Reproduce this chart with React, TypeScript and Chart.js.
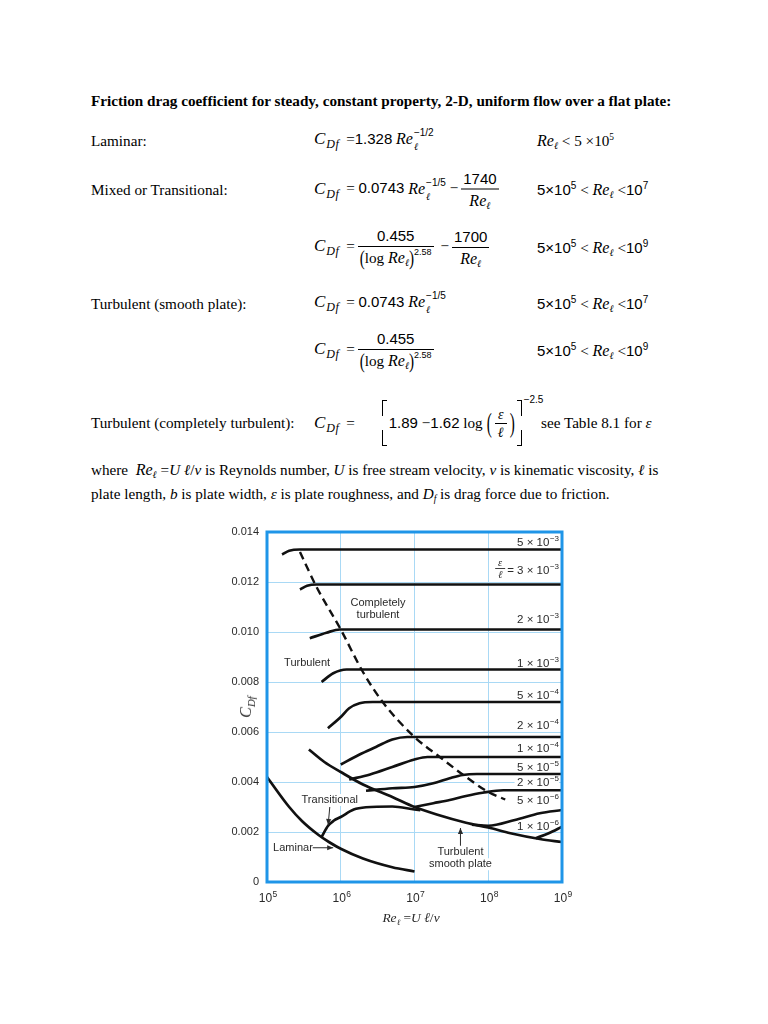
import React, { useEffect, useRef } from 'react';
import { Chart, registerables } from 'chart.js';

Chart.register(...registerables);

const SERIF = '"Liberation Serif", "Times New Roman", Times, serif';
const SANS = '"Liberation Sans", Arial, Helvetica, sans-serif';
const LINE = '#111111';
const TEXT = '#2a2a2a';
const GRID = '#a9d9f5';
const FRAME = '#1f95e8';

// ---------- axis ticks ----------
const xTickValues = [1e5, 1e6, 1e7, 1e8, 1e9];
const xTickExponents = ['5', '6', '7', '8', '9'];
const yTickValues = [0, 0.002, 0.004, 0.006, 0.008, 0.01, 0.012, 0.014];
const yTickLabels = ['0', '0.002', '0.004', '0.006', '0.008', '0.010', '0.012', '0.014'];

// ---------- curves (Re, C_Df) ----------
const reLaminar = [1e5, 2e5, 3e5, 5e5, 7e5, 1e6, 2e6, 5e6, 1e7];
const cdLaminar = [0.0042, 0.003, 0.00243, 0.00188, 0.00159, 0.00133, 0.00094, 0.00059, 0.00042];

const reSmooth = [3.7e5, 6e5, 1e6, 2e6, 5e6, 1e7, 2e7, 5e7, 1e8, 2e8, 5e8, 1e9];
const cdSmooth = [0.0053, 0.0048, 0.0044, 0.0039, 0.0034, 0.003, 0.0027, 0.00237, 0.00218, 0.00195, 0.00172, 0.0016];

const reTransitional = [5.5e5, 6.7e5, 8e5, 1e6, 1.5e6, 2.2e6, 5e6, 1e7, 1.2e7];
const cdTransitional = [0.0018, 0.00224, 0.00245, 0.0026, 0.0029, 0.00299, 0.00302, 0.0029, 0.00287];

const reRough5e3 = [1.6e5, 2e5, 2.8e5, 1e9];
const cdRough5e3 = [0.0131, 0.01325, 0.0133, 0.0133];

const reRough3e3 = [2.8e5, 3.5e5, 4.7e5, 1e9];
const cdRough3e3 = [0.0117, 0.01185, 0.0119, 0.0119];

const reRough2e3 = [3.8e5, 6.4e5, 9.7e5, 1e9];
const cdRough2e3 = [0.00975, 0.00997, 0.0101, 0.0101];

const reRough1e3 = [5.5e5, 7.9e5, 1.2e6, 1e9];
const cdRough1e3 = [0.008, 0.00835, 0.0085, 0.0085];

const reRough5e4 = [6.7e5, 1e6, 1.3e6, 1.8e6, 2.7e6, 1e9];
const cdRough5e4 = [0.00615, 0.0066, 0.00695, 0.00715, 0.0072, 0.0072];

const reRough2e4 = [1e6, 1.8e6, 3e6, 5e6, 8e6, 1e9];
const cdRough2e4 = [0.0047, 0.0051, 0.0054, 0.0057, 0.0058, 0.0058];

const reRough1e4 = [1.3e6, 2.5e6, 5e6, 1e7, 1.5e7, 1e9];
const cdRough1e4 = [0.0041, 0.0043, 0.0046, 0.0049, 0.005, 0.005];

const reRough5e5 = [2.2e6, 5e6, 1e7, 1.8e7, 3e7, 4.5e7, 7e7, 1e9];
const cdRough5e5 = [0.00365, 0.00375, 0.0038, 0.00395, 0.00415, 0.00428, 0.00432, 0.00432];

const reRough2e5 = [1e7, 1.8e7, 3e7, 5e7, 8.4e7, 1.6e8, 1e9];
const cdRough2e5 = [0.003, 0.00315, 0.00328, 0.00344, 0.00357, 0.00367, 0.00367];

const reRough5e6 = [6e7, 1e8, 2.3e8, 5e8, 1e9];
const cdRough5e6 = [0.00229, 0.00225, 0.00248, 0.00275, 0.00288];

const reRough1e6 = [4.4e8, 6.6e8, 1e9];
const cdRough1e6 = [0.00175, 0.00195, 0.00221];

const reBoundary = [2.8e5, 4.7e5, 1e6, 2e6, 3.7e6, 1e7, 2.2e7, 4.5e7, 1e8, 1.7e8];
const cdBoundary = [0.0132, 0.0118, 0.0101, 0.0084, 0.0072, 0.0058, 0.005, 0.0043, 0.0036, 0.0033];

// ---------- annotation texts ----------
const innerLabels = [
  { re: 3.2e6, cd: 0.01117, text: 'Completely' },
  { re: 3.2e6, cd: 0.01068, text: 'turbulent' },
  { re: 3.5e5, cd: 0.00875, text: 'Turbulent' },
  { re: 7.1e5, cd: 0.00328, text: 'Transitional' },
  { re: 2.25e5, cd: 0.00136, text: 'Laminar' },
  { re: 4.2e7, cd: 0.00121, text: 'Turbulent' },
  { re: 4.2e7, cd: 0.00071, text: 'smooth plate' },
];

const roughnessLabels = [
  { cd: 0.0136, mantissa: '5', exponent: '−3', withRatio: false },
  { cd: 0.01248, mantissa: '3', exponent: '−3', withRatio: true },
  { cd: 0.01052, mantissa: '2', exponent: '−3', withRatio: false },
  { cd: 0.00876, mantissa: '1', exponent: '−3', withRatio: false },
  { cd: 0.00748, mantissa: '5', exponent: '−4', withRatio: false },
  { cd: 0.00628, mantissa: '2', exponent: '−4', withRatio: false },
  { cd: 0.00536, mantissa: '1', exponent: '−4', withRatio: false },
  { cd: 0.0046, mantissa: '5', exponent: '−5', withRatio: false },
  { cd: 0.004, mantissa: '2', exponent: '−5', withRatio: false },
  { cd: 0.00328, mantissa: '5', exponent: '−6', withRatio: false },
  { cd: 0.00224, mantissa: '1', exponent: '−6', withRatio: false },
];

const arrowsData = [
  { fromRe: 4.2e7, fromCd: 0.00145, toRe: 4.2e7, toCd: 0.00216 },
  { fromRe: 7.1e5, fromCd: 0.003, toRe: 6.75e5, toCd: 0.00228 },
  { fromRe: 4.17e5, fromCd: 0.00137, toRe: 7.9e5, toCd: 0.00137 },
];

const curveSeries = [
  { re: reLaminar, cd: cdLaminar, dashed: false },
  { re: reSmooth, cd: cdSmooth, dashed: false },
  { re: reTransitional, cd: cdTransitional, dashed: false },
  { re: reRough5e3, cd: cdRough5e3, dashed: false },
  { re: reRough3e3, cd: cdRough3e3, dashed: false },
  { re: reRough2e3, cd: cdRough2e3, dashed: false },
  { re: reRough1e3, cd: cdRough1e3, dashed: false },
  { re: reRough5e4, cd: cdRough5e4, dashed: false },
  { re: reRough2e4, cd: cdRough2e4, dashed: false },
  { re: reRough1e4, cd: cdRough1e4, dashed: false },
  { re: reRough5e5, cd: cdRough5e5, dashed: false },
  { re: reRough2e5, cd: cdRough2e5, dashed: false },
  { re: reRough5e6, cd: cdRough5e6, dashed: false },
  { re: reRough1e6, cd: cdRough1e6, dashed: false },
  { re: reBoundary, cd: cdBoundary, dashed: true },
];

function drawSup(ctx: CanvasRenderingContext2D, x: number, y: number, base: string, sup: string, align: string, baseSize: number, supSize: number) {
  ctx.font = `${baseSize}px ${SANS}`;
  const wb = ctx.measureText(base).width;
  ctx.font = `${supSize}px ${SANS}`;
  const ws = ctx.measureText(sup).width;
  const total = wb + ws + 0.5;
  const left = align === 'right' ? x - total : align === 'center' ? x - total / 2 : x;
  ctx.textAlign = 'left';
  ctx.textBaseline = 'alphabetic';
  ctx.font = `${baseSize}px ${SANS}`;
  ctx.fillText(base, left, y);
  ctx.font = `${supSize}px ${SANS}`;
  ctx.fillText(sup, left + wb + 0.5, y - baseSize * 0.42);
  return { left, width: total };
}

function drawArrow(ctx: CanvasRenderingContext2D, x1: number, y1: number, x2: number, y2: number) {
  ctx.beginPath();
  ctx.moveTo(x1, y1);
  ctx.lineTo(x2, y2);
  ctx.stroke();
  const a = Math.atan2(y2 - y1, x2 - x1);
  const L = 6, W = 2.6;
  ctx.beginPath();
  ctx.moveTo(x2, y2);
  ctx.lineTo(x2 - L * Math.cos(a) + W * Math.sin(a), y2 - L * Math.sin(a) - W * Math.cos(a));
  ctx.lineTo(x2 - L * Math.cos(a) - W * Math.sin(a), y2 - L * Math.sin(a) + W * Math.cos(a));
  ctx.closePath();
  ctx.fill();
}

const annotationPlugin = {
  id: 'flatPlateAnnotations',
  beforeDatasetsDraw(chart: any) {
    const { ctx } = chart;
    const xs = chart.scales.x;
    const ys = chart.scales.y;
    ctx.save();
    innerLabels.forEach((l) => {
      const px = xs.getPixelForValue(l.re);
      const py = ys.getPixelForValue(l.cd);
      ctx.font = `11px ${SANS}`;
      const w = ctx.measureText(l.text).width;
      ctx.fillStyle = '#ffffff';
      ctx.fillRect(px - w / 2 - 1, py - 6, w + 2, 12);
      ctx.fillStyle = TEXT;
      ctx.textAlign = 'center';
      ctx.textBaseline = 'middle';
      ctx.fillText(l.text, px, py);
    });
    const rx = xs.getPixelForValue(1e9) - 3;
    roughnessLabels.forEach((l) => {
      const py = ys.getPixelForValue(l.cd);
      const base = `${l.mantissa} × 10`;
      ctx.font = `11.5px ${SANS}`;
      const wb = ctx.measureText(base).width;
      ctx.font = `8px ${SANS}`;
      const ws = ctx.measureText(l.exponent).width;
      let extra = 0;
      if (l.withRatio) {
        ctx.font = `11.5px ${SANS}`;
        extra = ctx.measureText('= ').width + 13;
      }
      const total = wb + ws + extra + 1;
      ctx.fillStyle = '#ffffff';
      ctx.fillRect(rx - total - 2, py - 9, total + 2, 15);
      ctx.fillStyle = TEXT;
      const r = drawSup(ctx, rx, py + 4, base, l.exponent, 'right', 11.5, 8);
      if (l.withRatio) {
        ctx.font = `11.5px ${SANS}`;
        const weq = ctx.measureText('= ').width;
        ctx.textAlign = 'left';
        ctx.fillText('= ', r.left - weq, py + 4);
        const fx = r.left - weq - 7;
        ctx.font = `italic 10.5px ${SERIF}`;
        ctx.textAlign = 'center';
        ctx.textBaseline = 'alphabetic';
        ctx.fillText('ε', fx, py - 4);
        ctx.fillText('ℓ', fx, py + 8);
        ctx.strokeStyle = TEXT;
        ctx.lineWidth = 0.9;
        ctx.beginPath();
        ctx.moveTo(fx - 5, py - 1.5);
        ctx.lineTo(fx + 5, py - 1.5);
        ctx.stroke();
      }
    });
    ctx.restore();
  },
  afterDatasetsDraw(chart: any) {
    const { ctx, chartArea } = chart;
    const xs = chart.scales.x;
    const ys = chart.scales.y;
    ctx.save();
    ctx.strokeStyle = FRAME;
    ctx.lineWidth = 3;
    ctx.strokeRect(chartArea.left, chartArea.top, chartArea.right - chartArea.left, chartArea.bottom - chartArea.top);
    ctx.strokeStyle = TEXT;
    ctx.fillStyle = TEXT;
    ctx.lineWidth = 1;
    arrowsData.forEach((a) => {
      drawArrow(ctx, xs.getPixelForValue(a.fromRe), ys.getPixelForValue(a.fromCd), xs.getPixelForValue(a.toRe), ys.getPixelForValue(a.toCd));
    });
    ctx.fillStyle = TEXT;
    xTickValues.forEach((v, i) => {
      const px = xs.getPixelForValue(v);
      drawSup(ctx, px + 1, chartArea.bottom + 20, '10', xTickExponents[i], 'center', 12, 8.5);
    });
    ctx.restore();
  },
};

const Sub = ({ children, size }: any) => (
  <span style={{ fontSize: size || '0.62em', position: 'relative', top: '0.32em' }}>{children}</span>
);
const Sup = ({ children }: any) => (
  <span style={{ fontSize: '0.62em', position: 'relative', top: '-0.6em' }}>{children}</span>
);
const SubSup = ({ sub, sup }: any) => (
  <span style={{ display: 'inline-flex', flexDirection: 'column', verticalAlign: 'middle', fontSize: 10, lineHeight: 1.15, marginLeft: 1 }}>
    <span style={{ fontFamily: SANS, position: 'relative', top: -2 }}>{sup}</span>
    <span><i>{sub}</i></span>
  </span>
);
const Cdf = () => (
  <span style={{ marginRight: 3 }}>
    <i style={{ fontSize: 17 }}>C</i>
    <span style={{ fontSize: 12, position: 'relative', top: 4, letterSpacing: 0.5, marginLeft: 1 }}>
      <i>Df</i>
    </span>
  </span>
);
const Rel = ({ sup }: any) => (
  <span>
    <i style={{ fontSize: 16 }}>Re</i>
    {sup ? <SubSup sub="ℓ" sup={sup} /> : <Sub size={10}><i>ℓ</i></Sub>}
  </span>
);
const Num = ({ children }: any) => <span style={{ fontFamily: SANS, fontSize: 15 }}>{children}</span>;
const Frac = ({ num, den }: any) => (
  <span style={{ display: 'inline-flex', flexDirection: 'column', alignItems: 'stretch', verticalAlign: 'middle', margin: '0 3px', textAlign: 'center' }}>
    <span style={{ lineHeight: '21px', padding: '0 2px' }}>{num}</span>
    <span style={{ lineHeight: '21px', borderTop: '1px solid #000', padding: '0 2px' }}>{den}</span>
  </span>
);
const LogRe = () => (
  <span style={{ whiteSpace: 'nowrap' }}>
    <span style={{ display: 'inline-block', transform: 'scaleY(1.35)' }}>(</span>
    log <Rel />
    <span style={{ display: 'inline-block', transform: 'scaleY(1.35)' }}>)</span>
    <span style={{ fontSize: 9, fontFamily: SANS, position: 'relative', top: '-0.9em' }}>2.58</span>
  </span>
);
const Range = ({ exp }: any) => (
  <span>
    <Num>5×10</Num>
    <Sup><span style={{ fontFamily: SANS, fontSize: 10 }}>5</span></Sup> &lt; <Rel /> &lt;<Num>10</Num>
    <Sup><span style={{ fontFamily: SANS, fontSize: 10 }}>{exp}</span></Sup>
  </span>
);
const BracketPiece = ({ side }: any) => {
  const v = side === 'left' ? 'borderLeft' : 'borderRight';
  return (
    <span style={{ display: 'inline-flex', flexDirection: 'column', justifyContent: 'space-between', height: 46, width: 5 }}>
      <span style={{ height: 15, [v]: '1px solid #000', borderTop: '1px solid #000' } as any} />
      <span style={{ height: 15, [v]: '1px solid #000', borderBottom: '1px solid #000' } as any} />
    </span>
  );
};

const at = (x: number, y: number): React.CSSProperties => ({
  position: 'absolute',
  left: x - 8,
  top: y - 8,
  transform: 'translateY(-50%)',
  whiteSpace: 'nowrap',
});

const FX = 314;
const RX = 537;

export default function App() {
  const canvasRef = useRef<HTMLCanvasElement>(null);

  useEffect(() => {
    const canvas = canvasRef.current;
    if (!canvas) return;
    const datasets = curveSeries.map((c) => ({
      data: c.re.map((r, i) => ({ x: r, y: c.cd[i] })),
      showLine: true,
      borderColor: LINE,
      backgroundColor: LINE,
      borderWidth: c.dashed ? 2.4 : 2.7,
      borderDash: c.dashed ? [8, 5] : [],
      pointRadius: 0,
      pointHoverRadius: 0,
      cubicInterpolationMode: 'monotone',
      fill: false,
    }));
    const chart = new Chart(canvas, {
      type: 'scatter',
      data: { datasets: datasets as any },
      options: {
        animation: false,
        responsive: false,
        maintainAspectRatio: false,
        events: [],
        layout: { padding: { left: 20, right: 18, top: 17, bottom: 5 } },
        plugins: { legend: { display: false }, tooltip: { enabled: false }, title: { display: false } },
        scales: {
          x: {
            type: 'logarithmic',
            min: 1e5,
            max: 1e9,
            afterBuildTicks: (s: any) => {
              s.ticks = xTickValues.map((v) => ({ value: v }));
            },
            afterFit: (s: any) => {
              s.height = 28;
            },
            ticks: { display: false },
            grid: { color: GRID, lineWidth: 1, drawTicks: false },
            border: { display: false },
          },
          y: {
            type: 'linear',
            min: 0,
            max: 0.014,
            afterBuildTicks: (s: any) => {
              s.ticks = yTickValues.map((v) => ({ value: v }));
            },
            afterFit: (s: any) => {
              s.width = 47;
            },
            ticks: {
              padding: 8,
              color: TEXT,
              font: { family: SANS, size: 11 },
              callback: (v: any) => {
                const idx = yTickValues.findIndex((t) => Math.abs(t - v) < 1e-9);
                return idx >= 0 ? yTickLabels[idx] : '';
              },
            },
            grid: { color: GRID, lineWidth: 1, drawTicks: false },
            border: { display: false },
          },
        },
      },
      plugins: [annotationPlugin],
    });
    return () => chart.destroy();
  }, []);

  return (
    <div style={{ position: 'relative', width: 752, height: 1000, fontFamily: SERIF, fontSize: 15.2, color: '#000' }}>
      <div style={{ ...at(91, 101), fontWeight: 'bold' }}>
        Friction drag coefficient for steady, constant property, 2-D, uniform flow over a flat plate:
      </div>

      {/* Laminar */}
      <div style={at(91, 141)}>Laminar:</div>
      <div style={at(FX, 141)}>
        <Cdf /> =<Num>1.328</Num> <Rel sup="−1/2" />
      </div>
      <div style={at(RX, 141)}>
        <Rel /> &lt; 5 ×10<Sup>5</Sup>
      </div>

      {/* Mixed */}
      <div style={at(91, 190)}>Mixed or Transitional:</div>
      <div style={at(FX, 190)}>
        <Cdf /> = <Num>0.0743</Num> <Rel sup="−1/5" /> −
        <Frac num={<Num>1740</Num>} den={<Rel />} />
      </div>
      <div style={at(RX, 190)}>
        <Range exp="7" />
      </div>

      <div style={at(FX, 248)}>
        <Cdf /> =
        <Frac num={<Num>0.455</Num>} den={<LogRe />} /> −
        <Frac num={<Num>1700</Num>} den={<Rel />} />
      </div>
      <div style={at(RX, 248)}>
        <Range exp="9" />
      </div>

      {/* Turbulent smooth */}
      <div style={at(91, 304)}>Turbulent (smooth plate):</div>
      <div style={at(FX, 304)}>
        <Cdf /> = <Num>0.0743</Num> <Rel sup="−1/5" />
      </div>
      <div style={at(RX, 304)}>
        <Range exp="7" />
      </div>

      <div style={at(FX, 351)}>
        <Cdf /> =
        <Frac num={<Num>0.455</Num>} den={<LogRe />} />
      </div>
      <div style={at(RX, 351)}>
        <Range exp="9" />
      </div>

      {/* Completely turbulent */}
      <div style={at(91, 423)}>Turbulent (completely turbulent):</div>
      <div style={{ ...at(FX, 423), display: 'flex', alignItems: 'center' }}>
        <span>
          <Cdf /> =
        </span>
        <span style={{ marginLeft: 27, display: 'inline-flex' }}>
          <BracketPiece side="left" />
        </span>
        <span style={{ marginLeft: 2 }}>
          <Num>1.89</Num> −<Num>1.62</Num> log
        </span>
        <span style={{ display: 'inline-block', transform: 'scaleY(1.8)', marginLeft: 4 }}>(</span>
        <span style={{ display: 'inline-flex', flexDirection: 'column', alignItems: 'center', fontSize: 14, margin: '0 3px' }}>
          <i style={{ lineHeight: '17px' }}>ε</i>
          <i style={{ lineHeight: '17px', borderTop: '1px solid #000', padding: '0 3px' }}>ℓ</i>
        </span>
        <span style={{ display: 'inline-block', transform: 'scaleY(1.8)' }}>)</span>
        <span style={{ display: 'inline-flex', marginLeft: 2 }}>
          <BracketPiece side="right" />
        </span>
        <span style={{ fontFamily: SANS, fontSize: 10, alignSelf: 'flex-start', marginTop: -6, marginLeft: 2 }}>−2.5</span>
      </div>
      <div style={at(541, 423)}>
        see Table 8.1 for <i>ε</i>
      </div>

      {/* where ... */}
      <div style={at(91, 470)}>
        where&nbsp; <Rel /> =<i>U</i> <i>ℓ</i>/<i>ν</i> is Reynolds number, <i>U</i> is free stream velocity, <i>ν</i> is kinematic viscosity, <i>ℓ</i> is
      </div>
      <div style={at(91, 494)}>
        plate length, <i>b</i> is plate width, <i>ε</i> is plate roughness, and <i>D</i>
        <Sub><i>f</i></Sub> is drag force due to friction.
      </div>

      {/* chart */}
      <canvas
        ref={canvasRef}
        width={380}
        height={400}
        style={{ position: 'absolute', left: 192, top: 507, width: 380, height: 400 }}
      />
      <div
        style={{
          position: 'absolute',
          left: 246 - 8,
          top: 707 - 8,
          transform: 'translate(-50%, -50%) rotate(-90deg)',
          fontFamily: SERIF,
          fontSize: 16,
          whiteSpace: 'nowrap',
          color: TEXT,
        }}
      >
        <i>C</i>
        <Sub size={11}><i>Df</i></Sub>
      </div>
      <div
        style={{
          position: 'absolute',
          left: 411 - 8,
          top: 918 - 8,
          transform: 'translate(-50%, -50%)',
          fontFamily: SERIF,
          fontSize: 13.5,
          whiteSpace: 'nowrap',
          color: TEXT,
        }}
      >
        <i>Re</i>
        <Sub><i>ℓ</i></Sub> =<i>U</i> <i>ℓ</i>/<i>ν</i>
      </div>
    </div>
  );
}
